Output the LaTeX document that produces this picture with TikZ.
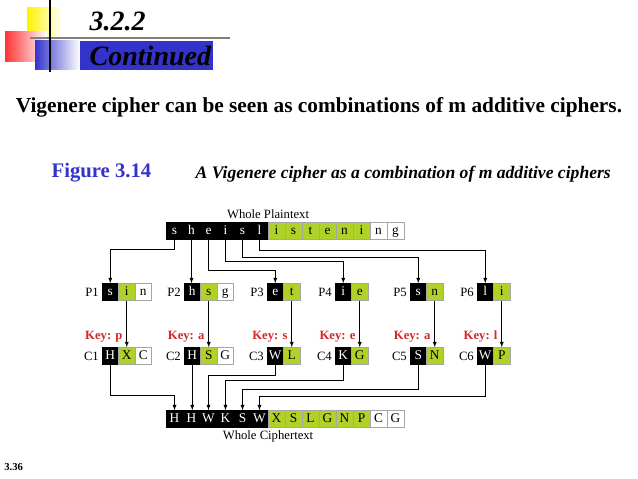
\documentclass[tikz,border=0pt]{standalone}
\usepackage{fontspec}
\setmainfont{Liberation Serif}
\usetikzlibrary{positioning}
\definecolor{lime}{RGB}{176,210,40}
\definecolor{slideblue}{RGB}{51,51,204}
\definecolor{keyred}{RGB}{210,40,40}
\tikzset{
  cell/.style={draw=gray!70,minimum width=12.4pt,minimum height=12.75pt,inner sep=0pt,text height=1.5ex,text depth=.25ex,font=\fontsize{10}{11}\selectfont},
  cell1/.style={cell,draw=black,fill=black,text=white},
  cell2/.style={cell,fill=lime},
  cell3/.style={cell,fill=white},
  arr/.style={-latex,thin},
  tag/.style={font=\fontsize{9.5}{11}\selectfont,inner sep=1pt},
  key/.style={text=keyred,font=\bfseries\fontsize{9.5}{11}\selectfont,anchor=base east,inner sep=1pt}
}
\begin{document}
\begin{tikzpicture}[x=0.75pt,y=-0.75pt]
  \useasboundingbox (0,0) rectangle (638,478);
  % slide decoration
  \shade[left color=yellow!90!orange,right color=white] (27,8) rectangle (62,40);
  \shade[left color=red!80,right color=white] (5,32) rectangle (47,62);
  \shade[left color=slideblue,right color=white] (35,41) rectangle (80,70);
  \fill[slideblue] (80,41) rectangle (213,70);
  \draw[gray,line width=1pt] (30,38) -- (230,38);
  \draw[line width=1pt] (50,0) -- (50,72);
  \node[font=\bfseries\itshape\fontsize{21}{24}\selectfont,anchor=west] (sec) at (85,21) {3.2.2};
  \node[font=\bfseries\itshape\fontsize{21}{24}\selectfont,anchor=west] (cont) at (85,56) {Continued};
  \node[font=\bfseries\fontsize{16}{19}\selectfont] (intro) at (319,107) {Vigenere cipher can be seen as combinations of m additive ciphers.};
  \node[font=\bfseries\fontsize{15.5}{18}\selectfont,text=slideblue,anchor=west] (fig) at (47,173) {Figure 3.14};
  \node[font=\bfseries\itshape\fontsize{13.2}{15}\selectfont,anchor=west] (cap) at (191,174) {A Vigenere cipher as a combination of m additive ciphers};
  \node[font=\bfseries\fontsize{8}{10}\selectfont,anchor=west,inner sep=0pt] (page) at (4,467) {3.36};

  % whole plaintext and ciphertext
  \foreach \l [count=\j] in {s,h,e,i,s,l,i,s,t,e,n,i,n,g}{
    \pgfmathtruncatemacro\k{\j<7 ? 1 : (\j<13 ? 2 : 3)}
    \node[cell\k] (pt\j) at (157.5+17*\j,230.5) {\l};
  }
  \foreach \l [count=\j] in {H,H,W,K,S,W,X,S,L,G,N,P,C,G}{
    \pgfmathtruncatemacro\k{\j<7 ? 1 : (\j<13 ? 2 : 3)}
    \node[cell\k] (ct\j) at (157.5+17*\j,419) {\l};
  }
  \node[tag] (plain) at (pt6.north east) [above=1pt] {Whole Plaintext};
  \node[tag] (ciph) at (ct6.south east) [below=1pt] {Whole Ciphertext};

  % the m additive ciphers
  \foreach \i/\x/\lbl in {1/102/{s,i,n},2/184/{h,s,g},3/267/{e,t},4/335/{i,e},5/410/{s,n},6/477/{l,i}}{
    \foreach \l [count=\j] in \lbl
      \node[cell\j] (p\i\j) at (\x-8.25+16.5*\j,292) {\l};
    \node[tag,left=1pt of p\i1] (pl\i) {P\i};
  }
  \foreach \i/\x/\lbl in {1/102/{H,X,C},2/184/{H,S,G},3/267/{W,L},4/335/{K,G},5/410/{S,N},6/477/{W,P}}{
    \foreach \l [count=\j] in \lbl
      \node[cell\j] (c\i\j) at (\x-8.25+16.5*\j,356) {\l};
    \node[tag,left=1pt of c\i1] (cl\i) {C\i};
  }
  \foreach \i/\k in {1/p,2/a,3/s,4/e,5/a,6/l}{
    \draw[arr] (p\i2.south) -- (c\i2.north);
    \node[key] (key\i) at ([xshift=-2,yshift=-29]p\i2.south) {Key: \k};
  }

  % plaintext to P boxes
  \draw[arr] (pt1.south) -- ++(0,10) -| (p11.north);
  \draw[arr] (pt2.south) -- (pt2.south |- p21.north);
  \draw[arr] (pt3.south) -- ++(0,31) -| (p31.north);
  \draw[arr] (pt4.south) -- ++(0,22) -| (p41.north);
  \draw[arr] (pt5.south) -- ++(0,18) -| (p51.north);
  \draw[arr] (pt6.south) -- ++(0,11) -| (p61.north);

  % C boxes to ciphertext
  \draw[arr] (c11.south) -- ++(0,30) -| (ct1.north);
  \draw[arr] (c21.south) -- (c21.south |- ct2.north);
  \draw[arr] (c31.south) -- ++(0,10) -| (ct3.north);
  \draw[arr] (c41.south) -- ++(0,15) -| (ct4.north);
  \draw[arr] (c51.south) -- ++(0,24) -| (ct5.north);
  \draw[arr] (c61.south) -- ++(0,31) -| (ct6.north);
\end{tikzpicture}
\end{document}
